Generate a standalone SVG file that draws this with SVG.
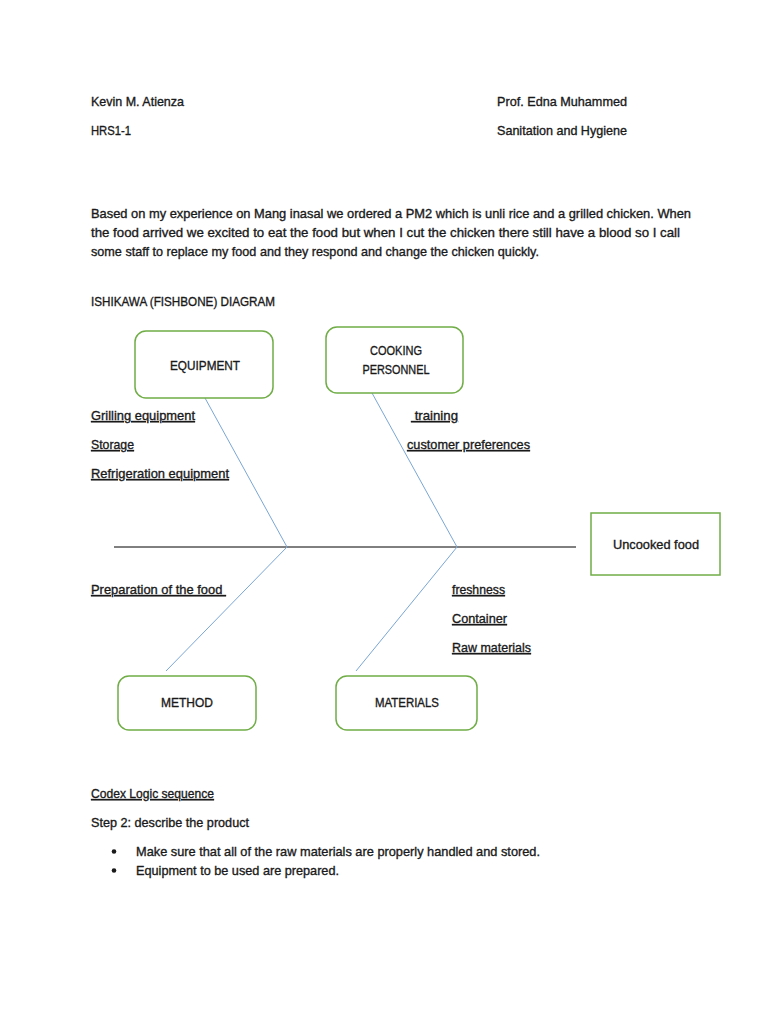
<svg xmlns="http://www.w3.org/2000/svg" width="768" height="1024" viewBox="0 0 768 1024">
<style>
text{font-family:"Liberation Sans",Arial,sans-serif;font-size:13px;fill:#1a1a1a;stroke:#1a1a1a;stroke-width:0.35}
.c{text-anchor:middle}
.u{text-decoration:underline}
.box{fill:#fff;stroke:#70ad47;stroke-width:1.5}
.bone{stroke:#7aa6d6;stroke-width:1;fill:none}
</style>
<rect width="768" height="1024" fill="#fff"/>
<g id="header">
<text x="91" y="106" textLength="93" lengthAdjust="spacingAndGlyphs">Kevin M. Atienza</text>
<text x="497" y="106" textLength="130" lengthAdjust="spacingAndGlyphs">Prof. Edna Muhammed</text>
<text x="91" y="135" textLength="40" lengthAdjust="spacingAndGlyphs">HRS1-1</text>
<text x="497" y="135" textLength="130" lengthAdjust="spacingAndGlyphs">Sanitation and Hygiene</text>
</g>
<g id="paragraph">
<text x="91" y="218" textLength="600" lengthAdjust="spacingAndGlyphs">Based on my experience on Mang inasal we ordered a PM2 which is unli rice and a grilled chicken. When</text>
<text x="91" y="237" textLength="589" lengthAdjust="spacingAndGlyphs">the food arrived we excited to eat the food but when I cut the chicken there still have a blood so I call</text>
<text x="91" y="256" textLength="448" lengthAdjust="spacingAndGlyphs">some staff to replace my food and they respond and change the chicken quickly.</text>
<text x="91" y="306" textLength="184" lengthAdjust="spacingAndGlyphs">ISHIKAWA (FISHBONE) DIAGRAM</text>
</g>
<g id="connectors">
<line x1="114" y1="547" x2="576" y2="547" stroke="#000" stroke-width="1"/>
<line class="bone" x1="205" y1="398" x2="287" y2="547"/>
<line class="bone" x1="372" y1="393" x2="457" y2="547"/>
<line class="bone" x1="287" y1="547" x2="166" y2="671"/>
<line class="bone" x1="457" y1="547" x2="356" y2="671"/>
</g>
<g id="equipment">
<rect class="box" x="135" y="331" width="138" height="67" rx="11"/>
<text class="c" x="205" y="370" textLength="70" lengthAdjust="spacingAndGlyphs">EQUIPMENT</text>
</g>
<g id="cooking-personnel">
<rect class="box" x="326" y="327" width="137" height="66" rx="11"/>
<text class="c" x="396" y="355" textLength="52" lengthAdjust="spacingAndGlyphs">COOKING</text>
<text class="c" x="396" y="374" textLength="67" lengthAdjust="spacingAndGlyphs">PERSONNEL</text>
</g>
<g id="uncooked-food">
<rect class="box" x="591" y="513" width="129" height="62"/>
<text class="c" x="656" y="549" textLength="86" lengthAdjust="spacingAndGlyphs">Uncooked food</text>
</g>
<g id="method">
<rect class="box" x="118" y="676" width="138" height="54" rx="11"/>
<text class="c" x="187" y="707" textLength="52" lengthAdjust="spacingAndGlyphs">METHOD</text>
</g>
<g id="materials">
<rect class="box" x="336" y="676" width="141" height="54" rx="11"/>
<text class="c" x="407" y="707" textLength="64" lengthAdjust="spacingAndGlyphs">MATERIALS</text>
</g>
<g id="labels">
<text class="u" x="91" y="420" textLength="104" lengthAdjust="spacingAndGlyphs">Grilling equipment</text>
<text class="u" x="91" y="449" textLength="43" lengthAdjust="spacingAndGlyphs">Storage</text>
<text class="u" x="91" y="478" textLength="138" lengthAdjust="spacingAndGlyphs">Refrigeration equipment</text>
<text class="u" x="411" y="420" textLength="47" lengthAdjust="spacingAndGlyphs" xml:space="preserve"> training</text>
<text class="u" x="407" y="449" textLength="123" lengthAdjust="spacingAndGlyphs">customer preferences</text>
<text class="u" x="91" y="594" textLength="135" lengthAdjust="spacingAndGlyphs" xml:space="preserve">Preparation of the food </text>
<text class="u" x="452" y="594" textLength="53" lengthAdjust="spacingAndGlyphs">freshness</text>
<text class="u" x="452" y="623" textLength="55" lengthAdjust="spacingAndGlyphs">Container</text>
<text class="u" x="452" y="652" textLength="79" lengthAdjust="spacingAndGlyphs">Raw materials</text>
</g>
<g id="codex">
<text class="u" x="91" y="798" textLength="123" lengthAdjust="spacingAndGlyphs">Codex Logic sequence</text>
<text x="91" y="827" textLength="158" lengthAdjust="spacingAndGlyphs">Step 2: describe the product</text>
<circle cx="114" cy="851.5" r="2.3" fill="#1a1a1a"/>
<text x="136" y="856" textLength="404" lengthAdjust="spacingAndGlyphs">Make sure that all of the raw materials are properly handled and stored.</text>
<circle cx="114" cy="870.5" r="2.3" fill="#1a1a1a"/>
<text x="136" y="875" textLength="203" lengthAdjust="spacingAndGlyphs">Equipment to be used are prepared.</text>
</g>
</svg>
